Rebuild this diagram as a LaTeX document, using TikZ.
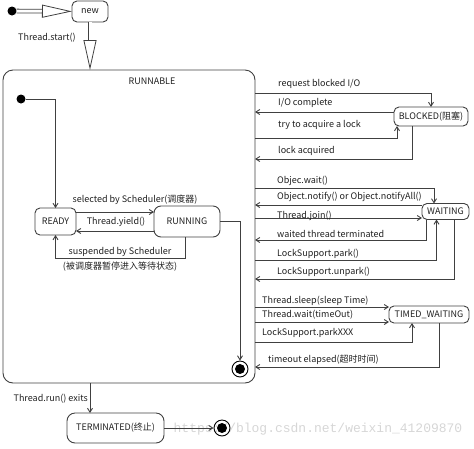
\documentclass[tikz,border=0pt]{standalone}
\usepackage{fontspec}
\setmainfont{Noto Sans CJK SC}
\newfontfamily\wmfont{Liberation Mono}
\usetikzlibrary{arrows.meta}
\definecolor{linec}{HTML}{404040}
\definecolor{textc}{HTML}{202020}

\begin{document}
\begin{tikzpicture}[x=1pt,y=-1pt,
    every node/.style={text=textc,font=\fontsize{9}{10}\selectfont},
    state/.style={draw=linec,line width=.9pt,rounded corners=5pt,inner sep=0pt,outer sep=0pt},
    tr/.style={draw=linec,line width=.9pt,-{Straight Barb[length=4pt,width=5pt]}},
    hollow/.style={draw=linec,double,double distance=3pt,line width=.8pt,-{Triangle[open,length=30pt,width=13pt]}},
    startdot/.style={circle,fill=black,minimum size=9pt,inner sep=0pt},
    enddot/.style={circle,draw=black,line width=.9pt,minimum size=16pt,inner sep=0pt,
        path picture={\fill (path picture bounding box.center) circle (5pt);}},
    lbl/.style={anchor=west,inner sep=0pt}]
    \useasboundingbox (0,0) rectangle (474,448);

    % watermark
    \node[text=gray!32,font=\wmfont\fontsize{13}{13}\selectfont] (wm) at (318,429) {https://blog.csdn.net/weixin\_41209870};

    % States
    \node[startdot] (init) at (12,11) {};
    \node[state,minimum width=36pt,minimum height=21pt] (new) at (90,11.5) {new};
    \node[state,minimum width=252pt,minimum height=313pt,rounded corners=10pt] (runnable) at (129,226.5) {};
    \node (runnablelbl) at (152,81) {RUNNABLE};
    \node[startdot] (init2) at (21,99) {};
    \node[state,minimum width=41pt,minimum height=27pt] (ready) at (55.5,221.5) {READY};
    \node[state,minimum width=66pt,minimum height=31pt,rounded corners=7pt] (running) at (187,221.5) {RUNNING};
    \node[enddot] (final) at (240,369) {};
    \node[state,minimum width=74pt,minimum height=19pt] (blocked) at (431,116.5) {BLOCKED(阻塞)};
    \node[state,minimum width=47pt,minimum height=16pt] (waiting) at (445.5,211.5) {WAITING};
    \node[state,minimum width=80pt,minimum height=17pt] (timed) at (429,314.5) {TIMED\_WAITING};
    \node[state,minimum width=97pt,minimum height=30pt,rounded corners=8pt] (terminated) at (115.5,428) {TERMINATED(终止)};
    \node[enddot] (exit) at (222,428) {};

    % Start
    \draw[hollow] (init) -- (new);
    \draw[hollow] (new) -- (new |- runnable.north);
    \node[lbl] (lstart) at (18,37.7) {Thread.start()};

    % Inside RUNNABLE
    \draw[tr] (init2) -| (ready);
    \draw[tr] ([yshift=9.5pt]ready.east) -- ([yshift=9.5pt]running.west);
    \draw[tr] ([yshift=-9.5pt]running.west) -- ([yshift=-9.5pt]ready.east);
    \draw[tr] ([xshift=-2pt]running.south) -- ++(0,21) -| (ready.south);
    \draw[tr] (running.east) -| (final.north);
    \node (lsel) at (135,200) {selected by Scheduler(调度器)};
    \node (lyield) at (116,222) {Thread.yield()};
    \node (lsusp) at (120,252) {suspended by Scheduler};
    \node (lsusp2) at (120,267) {(被调度器暂停进入等待状态)};

    % BLOCKED
    \draw[tr] (runnable.east |- 0,93) -| (blocked.north);
    \draw[tr] ([yshift=4.5pt]blocked.west) -- (runnable.east |- 0,112);
    \draw[tr] (runnable.east |- 0,138) -| ([xshift=3pt]blocked.south west);
    \draw[tr] ([xshift=-19pt]blocked.south) |- (runnable.east |- 0,159);
    \node[lbl] (lb1) at (278,84) {request blocked I/O};
    \node[lbl] (lb2) at (278,102.7) {I/O complete};
    \node[lbl] (lb3) at (278,125) {try to acquire a lock};
    \node[lbl] (lb4) at (278,150.7) {lock acquired};

    % WAITING
    \draw[tr] (runnable.east |- 0,188) -| ([xshift=-11.5pt]waiting.north);
    \draw[tr] ([yshift=6.5pt]waiting.west) -- (runnable.east |- 0,205);
    \draw[tr] (runnable.east |- 0,218) -- (waiting.west |- 0,218);
    \draw[tr] ([xshift=-19.5pt]waiting.south) |- (runnable.east |- 0,240);
    \draw[tr] (runnable.east |- 0,260) -| ([xshift=-9pt]waiting.south);
    \draw[tr] ([xshift=8.5pt]waiting.south) |- (runnable.east |- 0,279);
    \node[lbl] (lw1) at (277,181) {Objec.wait()};
    \node[lbl] (lw2) at (277,197) {Object.notify() or Object.notifyAll()};
    \node[lbl] (lw3) at (277,215.7) {Thread.join()};
    \node[lbl] (lw4) at (277,234) {waited thread terminated};
    \node[lbl] (lw5) at (277,254) {LockSupport.park()};
    \node[lbl] (lw6) at (277,271.7) {LockSupport.unpark()};

    % TIMED_WAITING
    \draw[tr] (runnable.east |- 0,307) -- (timed.west |- 0,307);
    \draw[tr] (runnable.east |- 0,322) -- (timed.west |- 0,322);
    \draw[tr] (runnable.east |- 0,342) -| ([xshift=-17pt]timed.south);
    \draw[tr] ([xshift=10pt]timed.south) |- (runnable.east |- 0,367);
    \node[lbl] (lt1) at (262,300.7) {Thread.sleep(sleep Time)};
    \node[lbl] (lt2) at (262,315) {Thread.wait(timeOut)};
    \node[lbl] (lt3) at (262,333) {LockSupport.parkXXX};
    \node[lbl] (lt4) at (268,360) {timeout elapsed(超时时间)};

    % Exit
    \coordinate (runexit) at ([xshift=-25.5pt]terminated.north);
    \draw[tr] (runnable.south -| runexit) -- (runexit);
    \draw[tr] (terminated) -- (exit);
    \node[anchor=east,inner sep=0pt] (lexit) at (88,399) {Thread.run() exits};
\end{tikzpicture}
\end{document}
